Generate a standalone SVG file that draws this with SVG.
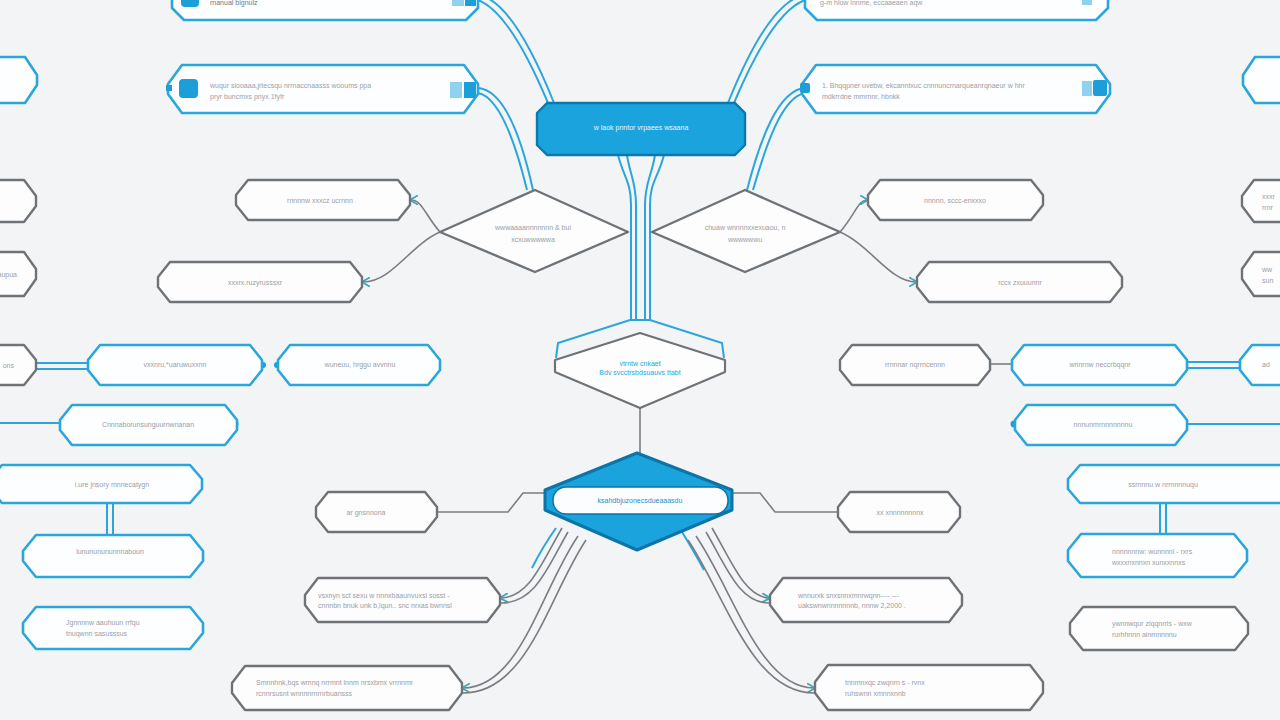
<svg xmlns="http://www.w3.org/2000/svg" width="1280" height="720" viewBox="0 0 1280 720">
<defs>
<style>
.bn{fill:#fdfeff;stroke:#2aa6dc;stroke-width:2.6;stroke-linejoin:round}
.gn{fill:#fdfdfd;stroke:#6f7377;stroke-width:2.4;stroke-linejoin:round}
.t{font-family:"Liberation Sans",Arial,sans-serif;font-size:7px;fill:#9aa0a6}
.tc{text-anchor:middle}
.cb{fill:none;stroke:#2aa6dc;stroke-width:2}
.cg{fill:none;stroke:#7a7e82;stroke-width:1.6}
.ic{fill:#1c9ed8}
.il{fill:#8fd2f0}
</style>
<marker id="tk" viewBox="0 0 8 8" refX="6" refY="4" markerWidth="6" markerHeight="6" orient="auto"><path d="M0,0 L7,4 L0,8" fill="none" stroke="#3aa9b8" stroke-width="1.5"/></marker>
</defs>
<rect width="1280" height="720" fill="#f3f4f6"/>

<g id="connectors">
<path class="cb" d="M478,0 C505,10 530,60 548,103"/>
<path class="cb" d="M483,-4 C511,6 536,58 554,103"/>
<path class="cb" d="M478,88 C505,90 522,140 533,190"/>
<path class="cb" d="M478,93 C500,97 516,145 527,190"/>
<path class="cb" d="M805,0 C778,10 752,60 734,103"/>
<path class="cb" d="M800,-4 C772,6 746,58 728,103"/>
<path class="cb" d="M805,88 C778,90 760,140 747,190"/>
<path class="cb" d="M805,93 C782,97 766,145 753,190"/>
<path class="cb" d="M618,155 C624,178 631,182 631,205 V320"/>
<path class="cb" d="M627,155 C630,175 636,182 636,205 V320"/>
<path class="cb" d="M655,155 C652,175 645,182 645,205 V320"/>
<path class="cb" d="M664,155 C658,178 650,182 650,205 V320"/>
<path class="cg" d="M440,232 C425,215 422,200 411,200" marker-end="url(#tk)"/>
<path class="cg" d="M440,232 C410,245 392,282 363,282" marker-end="url(#tk)"/>
<path class="cg" d="M840,232 C855,215 858,200 867,200" marker-end="url(#tk)"/>
<path class="cg" d="M840,232 C870,245 890,282 916,282" marker-end="url(#tk)"/>
<path class="cg" d="M640,408 V453"/>
<path class="cg" d="M547,493 H523 L508,512 H438"/>
<path class="cg" d="M732,493 H760 L775,512 H838"/>
<path class="cb" d="M556,528 C546,542 540,552 532,568"/>
<path class="cg" d="M562,528 C542,562 530,597 501,598" marker-end="url(#tk)"/>
<path class="cg" d="M568,532 C548,566 536,603 501,603"/>
<path class="cg" d="M578,536 C540,592 520,688 463,688" marker-end="url(#tk)"/>
<path class="cg" d="M586,540 C548,597 528,693 463,693"/>
<path class="cb" d="M682,532 C690,545 696,555 704,570"/>
<path class="cg" d="M712,528 C732,562 745,597 769,598" marker-end="url(#tk)"/>
<path class="cg" d="M706,532 C726,566 739,603 769,603"/>
<path class="cg" d="M696,536 C734,592 760,688 814,688" marker-end="url(#tk)"/>
<path class="cg" d="M688,540 C726,597 752,693 814,693"/>
<path class="cb" d="M36,363 H88 M36,369 H88"/>
<circle class="ic" cx="263" cy="365" r="3"/>
<circle class="ic" cx="277" cy="365" r="3"/>
<path class="cb" d="M0,423 H60" stroke-width="2.6"/>
<circle class="ic" cx="235" cy="424" r="3.5"/>
<path class="cb" d="M107,503 V535 M113,503 V535"/>
<path class="cg" d="M990,364 H1012" stroke="#8fb8c8"/>
<path class="cb" d="M1187,362 H1240 M1187,368 H1240"/>
<path class="cb" d="M1187,424 H1280" stroke-width="2.6"/>
<circle class="ic" cx="1014" cy="424" r="3.5"/>
<path class="cb" d="M1160,503 V534 M1166,503 V534"/>
</g>

<g id="n-tl1">
<path class="bn" d="M184,-14 H466 L478,-2 V8 L466,20 H184 L172,8 V-2 Z"/>
<rect class="ic" x="181" y="-10" width="18" height="17" rx="4"/>
<rect class="il" x="452" y="-8" width="12" height="14"/><rect class="ic" x="465" y="-8" width="11" height="14"/>
<text class="t" x="210" y="5" style="fill:#6c7a86">rnanual bignulz</text>
</g>
<g id="n-tl2">
<path class="bn" d="M182,65 H464 L478,84 V94 L464,113 H182 L168,94 V84 Z"/>
<rect class="ic" x="179" y="79" width="19" height="19" rx="4"/>
<rect class="ic" x="166" y="85" width="6" height="6"/>
<rect class="il" x="450" y="82" width="12" height="16"/><rect class="ic" x="464" y="82" width="12" height="16"/>
<text class="t" x="210" y="88">wuqur siooaaa,jrtecsqu nrrnaccnaasss wooums ppa</text>
<text class="t" x="210" y="99">pryr buncmxs pnyx  1fyfr</text>
</g>
<g id="n-tr1">
<path class="bn" d="M817,-14 H1096 L1108,-2 V8 L1096,20 H817 L805,8 V-2 Z"/>
<rect class="il" x="1082" y="-8" width="10" height="13"/>
<text class="t" x="820" y="5">g-m  hlow innme, eccaaeaen aqw</text>
</g>
<g id="n-tr2">
<path class="bn" d="M816,65 H1096 L1110,84 V94 L1096,113 H816 L802,94 V84 Z"/>
<rect class="ic" x="800" y="83" width="10" height="10" rx="2"/>
<rect class="il" x="1082" y="81" width="10" height="15"/><rect class="ic" x="1093" y="80" width="14" height="16" rx="2"/>
<text class="t" x="822" y="88">1. Bhqqpner uvebw, ekcanntxuc cnnnuncrnarqueanrqnaeur w hhr</text>
<text class="t" x="822" y="99">mdkrrdne mmrnnr, hbnkk</text>
</g>

<g id="n-center-top">
<path d="M547,103 H735 L745,113 V145 L735,155 H547 L537,145 V113 Z" fill="#1aa3dc" stroke="#0f78aa" stroke-width="2.4" stroke-linejoin="round"/>
<text class="t tc" x="641" y="130" style="fill:#e8f6fd">w laok pnntor vrpaees wsaana</text>
</g>

<g id="n-diamond-left">
<path class="gn" d="M440,232 L535,190 L628,232 L535,272 Z"/>
<text class="t tc" x="533" y="230">wwwaaaannnnnnn &amp; bui</text>
<text class="t tc" x="533" y="242">xcxuwwwwwa</text>
</g>
<g id="n-diamond-right">
<path class="gn" d="M652,232 L745,190 L840,232 L745,272 Z"/>
<text class="t tc" x="745" y="230">chuaw wnnnnxxexuaou, n</text>
<text class="t tc" x="745" y="242">wwwwwwu</text>
</g>

<g id="n-l1"><path class="gn" d="M248,180 H398 L410,195 V205 L398,220 H248 L236,205 V195 Z"/><text class="t tc" x="320" y="203">rnnnnw xxxcz ucrnnn</text></g>
<g id="n-l2"><path class="gn" d="M170,262 H350 L362,277 V287 L350,302 H170 L158,287 V277 Z"/><text class="t tc" x="255" y="285">xxxrx.ruzyrusssxr</text></g>
<g id="n-r1"><path class="gn" d="M880,180 H1031 L1043,195 V205 L1031,220 H880 L868,205 V195 Z"/><text class="t tc" x="955" y="203">nnnnn, sccc-enxxxo</text></g>
<g id="n-r2"><path class="gn" d="M929,262 H1110 L1122,277 V287 L1110,302 H929 L917,287 V277 Z"/><text class="t tc" x="1020" y="285">rccx zxuuunnr</text></g>

<g id="n-edge-l1"><path class="bn" d="M-8,57 H25 L37,75 V85 L25,103 H-8 Z" stroke-width="3"/></g>
<g id="n-edge-l2"><path class="gn" d="M-8,180 H24 L36,196 V206 L24,222 H-8 Z"/></g>
<g id="n-edge-l3"><path class="gn" d="M-8,252 H24 L36,269 V279 L24,296 H-8 Z"/><text class="t" x="17" y="277" text-anchor="end">aupua</text></g>
<g id="n-edge-r1"><path class="bn" d="M1290,57 H1255 L1243,75 V85 L1255,103 H1290 Z" stroke-width="3"/></g>
<g id="n-edge-r2"><path class="gn" d="M1290,180 H1254 L1242,196 V206 L1254,222 H1290 Z"/><text class="t" x="1262" y="199">xxxr</text><text class="t" x="1262" y="210">rrnr</text></g>
<g id="n-edge-r3"><path class="gn" d="M1290,252 H1254 L1242,269 V279 L1254,296 H1290 Z"/><text class="t" x="1262" y="272">ww</text><text class="t" x="1262" y="283">sun</text></g>

<g id="n-mid">
<path d="M555,360 L640,333 L725,360 V372 L640,408 L555,372 Z" fill="#fdfdfd" stroke="#6f7377" stroke-width="2.2" stroke-linejoin="round"/>
<path class="cb" d="M556,358 L558,343 L630,320 H650 L722,343 L724,358"/>
<text class="t tc" x="640" y="366" style="fill:#2aa6dc">vtrntw cnkaet</text>
<text class="t tc" x="640" y="375" style="fill:#2aa6dc">Bdv svcctrsbdsuauvs ttabt</text>
</g>

<g id="n-center-bottom">
<path d="M545,490 L637,453 L732,490 V510 L637,550 L545,510 Z" fill="#1ba3dd" stroke="#0d74a8" stroke-width="3" stroke-linejoin="round"/>
<rect x="553" y="487" width="175" height="27" rx="13" fill="#fbfdff" stroke="#0d74a8" stroke-width="1.5"/>
<text class="t tc" x="640" y="503" style="fill:#2a8fc8">ksahdbjuzonecsdueaaasdu</text>
</g>

<g id="n-bl1"><path class="gn" d="M328,492 H425 L437,507 V517 L425,532 H328 L316,517 V507 Z"/><text class="t tc" x="366" y="515">ar gnsnnona</text></g>
<g id="n-bl2"><path class="gn" d="M318,578 H487 L500,595 V605 L487,622 H318 L305,605 V595 Z"/><text class="t" x="318" y="598">vsxnyn sct sexu w nnnxbaaunvuxsl sosst -</text><text class="t" x="318" y="608">cnnnbn bnuk unk b,lqun.. snc nrxas bwnnsl</text></g>
<g id="n-bl3"><path class="gn" d="M245,666 H449 L462,683 V693 L449,710 H245 L232,693 V683 Z"/><text class="t" x="256" y="685">Smnnhnk,bqs wmnq nrrmnt lnnm nrsxbmx vrrnnmr</text><text class="t" x="256" y="696">rcnnrsusnt wnnnnrnrnrbuansss</text></g>
<g id="n-br1"><path class="gn" d="M850,492 H948 L960,507 V517 L948,532 H850 L838,517 V507 Z"/><text class="t tc" x="900" y="515">xx xnnnnnnnnx</text></g>
<g id="n-br2"><path class="gn" d="M783,578 H949 L962,595 V605 L949,622 H783 L770,605 V595 Z"/><text class="t" x="798" y="598">wnnurxk snxsnnxmnrwqnn---- ---</text><text class="t" x="798" y="608">uakswnwnnnnnnnb, nnnw 2,2000 .</text></g>
<g id="n-br3"><path class="gn" d="M828,665 H1030 L1043,682 V693 L1030,710 H828 L815,693 V682 Z"/><text class="t" x="845" y="685">tnnmnxqc zwqnrn s - rvnx</text><text class="t" x="845" y="696">ruhswnn xmnnxnnb</text></g>

<g id="n-edge-l4"><path class="gn" d="M-8,345 H24 L36,360 V370 L24,385 H-8 Z"/><text class="t" x="14" y="368" text-anchor="end">ons</text></g>
<g id="n-lb1"><path class="bn" d="M100,345 H250 L262,360 V370 L250,385 H100 L88,370 V360 Z"/><text class="t tc" x="175" y="367">vxxnru,*uaruwuxxnn</text></g>
<g id="n-lb2"><path class="bn" d="M290,345 H428 L440,360 V370 L428,385 H290 L278,370 V360 Z"/><text class="t tc" x="360" y="367">wuneuu, hrggu avvnnu</text></g>
<g id="n-lb3"><path class="bn" d="M72,405 H225 L237,420 V430 L225,445 H72 L60,430 V420 Z"/><text class="t tc" x="148" y="427">Cnnnaborunsunguurnwnanan</text></g>
<g id="n-lb4"><path class="bn" d="M2,465 H190 L202,479 V489 L190,503 H2 L-10,489 V479 Z"/><text class="t tc" x="112" y="487">i.ure jnsory mnnecatygn</text></g>
<g id="n-lb5"><path class="bn" d="M36,535 H190 L203,551 V561 L190,577 H36 L23,561 V551 Z"/><text class="t tc" x="110" y="554">lunununununnnaboun</text></g>
<g id="n-lb6"><path class="bn" d="M36,607 H190 L203,623 V633 L190,649 H36 L23,633 V623 Z"/><text class="t" x="66" y="625">Jgnnnnw aauhuun rrfqu</text><text class="t" x="66" y="636">tnuqwnn sasusssus</text></g>

<g id="n-rg1"><path class="gn" d="M852,345 H978 L990,360 V370 L978,385 H852 L840,370 V360 Z"/><text class="t tc" x="915" y="367">rrnnnar nqrrncennn</text></g>
<g id="n-rb1"><path class="bn" d="M1024,345 H1175 L1187,360 V370 L1175,385 H1024 L1012,370 V360 Z"/><text class="t tc" x="1100" y="367">wnnrnw neccrbqqnr</text></g>
<g id="n-edge-r4"><path class="bn" d="M1290,345 H1252 L1240,360 V370 L1252,385 H1290 Z"/><text class="t" x="1262" y="367">ad</text></g>
<g id="n-rb2"><path class="bn" d="M1027,405 H1175 L1187,420 V430 L1175,445 H1027 L1015,430 V420 Z"/><text class="t tc" x="1103" y="427">nnnunmrnnnnnnnu</text></g>
<g id="n-rb3"><path class="bn" d="M1080,465 H1290 V503 H1080 L1068,489 V479 Z"/><text class="t tc" x="1163" y="487">ssrnnnu w nrrnnnnuqu</text></g>
<g id="n-rb4"><path class="bn" d="M1081,534 H1234 L1247,550 V561 L1234,577 H1081 L1068,561 V550 Z"/><text class="t" x="1112" y="554">nnnnnnnw: wunnnnl - rxrs</text><text class="t" x="1112" y="565">wxxxnxnnxn xunxxnnxs</text></g>
<g id="n-rg2"><path class="gn" d="M1083,607 H1235 L1248,623 V634 L1235,650 H1083 L1070,634 V623 Z"/><text class="t" x="1112" y="626">ywnnwqur ziqqnrrls - wxw</text><text class="t" x="1112" y="637">rurhhnnn ainmnnnnu</text></g>
</svg>
